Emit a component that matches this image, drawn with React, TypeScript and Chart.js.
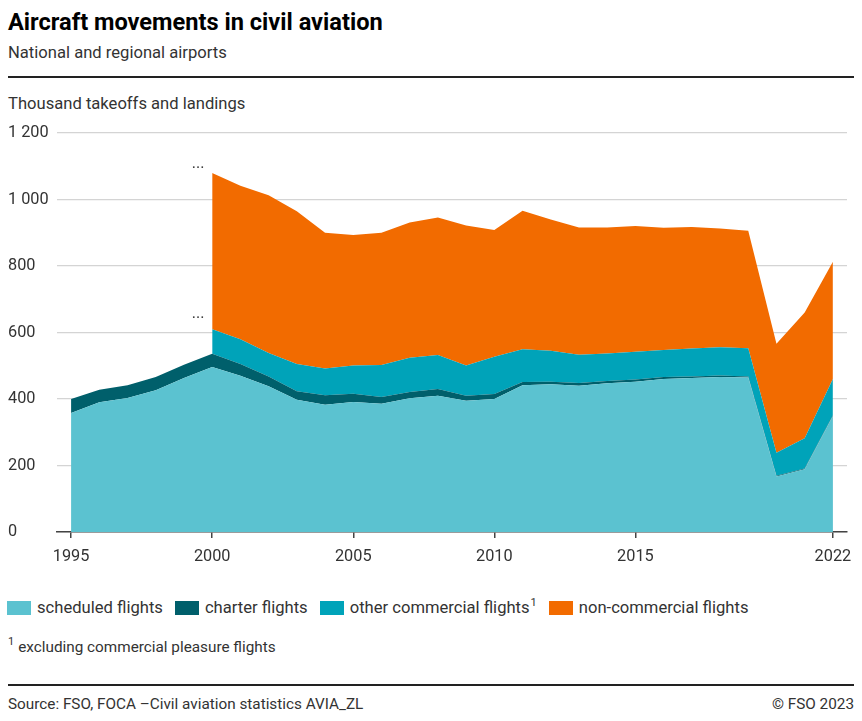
import React, { useEffect, useRef } from "react";
import { Chart, registerables } from "chart.js";

Chart.register(...registerables);

const years = [
  1995, 1996, 1997, 1998, 1999, 2000, 2001, 2002, 2003, 2004, 2005, 2006, 2007, 2008,
  2009, 2010, 2011, 2012, 2013, 2014, 2015, 2016, 2017, 2018, 2019, 2020, 2021, 2022,
];
const scheduled = [
  358, 390, 403, 426, 463, 496, 470, 438, 398, 383, 391, 386, 402, 410,
  395, 400, 441, 444, 440, 447, 452, 460, 463, 466, 465, 167, 189, 349,
];
const charter = [
  42, 38, 38, 40, 40, 40, 35, 30, 25, 28, 25, 20, 19, 20,
  15, 15, 10, 8, 8, 7, 7, 6, 5, 5, 3, 2, 2, 2,
];
const otherCommercial = [
  null, null, null, null, null, 74, 75, 70, 82, 81, 85, 96, 103, 102,
  91, 112, 99, 93, 85, 83, 83, 81, 84, 85, 85, 69, 91, 109,
];
const nonCommercial = [
  null, null, null, null, null, 470, 461, 475, 460, 408, 392, 398, 407, 414,
  421, 381, 416, 395, 383, 379, 378, 368, 365, 357, 353, 328, 378, 353,
];
const seriesNames = [
  "scheduled flights",
  "charter flights",
  "other commercial flights",
  "non-commercial flights",
];
const seriesColors = ["#5bc2d0", "#005f6b", "#00a3b9", "#f26b00"];
const xTickYears = [1995, 2000, 2005, 2010, 2015, 2022];
const yMax = 1200;
const yStep = 200;
// "..." markers showing that the upper series are not available before 2000
const gapMarkYears = [1999.5, 1999.5];
const gapMarkValues = [1095, 645];

const TEXT = "#333333";
const FONT = "Roboto, 'Noto Sans', sans-serif";

function formatThousands(v: number): string {
  if (v >= 1000) {
    return `${Math.floor(v / 1000)} ${String(v % 1000).padStart(3, "0")}`;
  }
  return String(v);
}

const gapMarksPlugin = {
  id: "gapMarks",
  afterDatasetsDraw(chart: any) {
    const { ctx, scales } = chart;
    const x = scales.x;
    const y = scales.y;
    ctx.save();
    ctx.font = `16px ${FONT}`;
    ctx.fillStyle = TEXT;
    ctx.textAlign = "center";
    ctx.textBaseline = "alphabetic";
    gapMarkYears.forEach((yr, i) => {
      ctx.fillText("...", x.getPixelForValue(yr), y.getPixelForValue(gapMarkValues[i]));
    });
    ctx.restore();
  },
};

export default function App() {
  const canvasRef = useRef<HTMLCanvasElement | null>(null);

  useEffect(() => {
    if (!canvasRef.current) return;
    const seriesValues = [scheduled, charter, otherCommercial, nonCommercial];
    const datasets = seriesValues.map((vals, si) => ({
      label: seriesNames[si],
      data: years.map((yr, i) => ({ x: yr, y: vals[i] })),
      backgroundColor: seriesColors[si],
      borderColor: seriesColors[si],
      borderWidth: 0,
      pointRadius: 0,
      pointHoverRadius: 0,
      fill: si === 0 ? "origin" : "-1",
      tension: 0,
      spanGaps: false,
    }));

    const chart = new Chart(canvasRef.current, {
      type: "line",
      data: { datasets },
      plugins: [gapMarksPlugin],
      options: {
        animation: false,
        responsive: true,
        maintainAspectRatio: false,
        layout: { padding: { top: 13, right: 15, left: 0, bottom: 0 } },
        plugins: {
          legend: { display: false },
          tooltip: { enabled: false },
          title: { display: false },
        },
        scales: {
          x: {
            type: "linear",
            min: years[0] - 0.5,
            max: years[years.length - 1] + 0.5,
            afterBuildTicks: (scale: any) => {
              scale.ticks = xTickYears.map((v) => ({ value: v }));
            },
            afterFit: (scale: any) => {
              scale.height = 38;
            },
            ticks: {
              autoSkip: false,
              maxRotation: 0,
              padding: 9,
              color: TEXT,
              font: { family: FONT, size: 16.3 },
              callback: (v: any) => String(v),
            },
            grid: {
              display: true,
              drawOnChartArea: false,
              drawTicks: true,
              tickLength: 6,
              color: "#444444",
              lineWidth: 1.5,
            },
            border: { display: true, color: "#444444", width: 1.5 },
          },
          y: {
            type: "linear",
            stacked: true,
            min: 0,
            max: yMax,
            afterFit: (scale: any) => {
              scale.width = 49;
            },
            ticks: {
              stepSize: yStep,
              crossAlign: "far",
              color: TEXT,
              font: { family: FONT, size: 16.3 },
              callback: (v: any) => formatThousands(Number(v)),
            },
            grid: {
              color: "#d4d4d4",
              lineWidth: 1.2,
              drawTicks: false,
            },
            border: { display: false },
          },
        },
      },
    } as any);
    return () => chart.destroy();
  }, []);

  const abs = (o: React.CSSProperties): React.CSSProperties => ({
    position: "absolute",
    lineHeight: 1,
    whiteSpace: "nowrap",
    fontFamily: FONT,
    color: TEXT,
    ...o,
  });

  return (
    <div
      style={{
        position: "absolute",
        left: 0,
        top: 0,
        width: 862,
        height: 721,
        background: "#ffffff",
        overflow: "hidden",
      }}
    >
      <div style={abs({ left: 8, top: 10.5, fontSize: 23.6, fontWeight: 700, color: "#000" })}>
        Aircraft movements in civil aviation
      </div>
      <div style={abs({ left: 8, top: 45, fontSize: 16.6 })}>National and regional airports</div>
      <div style={{ position: "absolute", left: 8, top: 75.5, width: 846, height: 2, background: "#222" }} />
      <div style={abs({ left: 8, top: 96, fontSize: 16.6 })}>Thousand takeoffs and landings</div>

      <div style={{ position: "absolute", left: 8, top: 120, width: 854, height: 450 }}>
        <canvas ref={canvasRef} />
      </div>

      <div
        style={abs({
          left: 7,
          top: 598,
          fontSize: 16.6,
          display: "flex",
          alignItems: "center",
          height: 20,
        })}
      >
        {seriesNames.map((name, i) => (
          <div key={name} style={{ display: "flex", alignItems: "center", marginRight: 12 }}>
            <span
              style={{
                display: "inline-block",
                width: 24,
                height: 14,
                background: seriesColors[i],
                marginRight: 6,
              }}
            />
            <span>
              {name}
              {i === 2 ? (
                <sup style={{ fontSize: 11, verticalAlign: "top", position: "relative", top: -3, marginLeft: 1 }}>1</sup>
              ) : null}
            </span>
          </div>
        ))}
      </div>

      <div style={abs({ left: 8, top: 640, fontSize: 15.3 })}>
        <sup style={{ fontSize: 11, verticalAlign: "top", position: "relative", top: -4, marginRight: 4 }}>1</sup>
        excluding commercial pleasure flights
      </div>

      <div style={{ position: "absolute", left: 8, top: 683.5, width: 846, height: 2, background: "#222" }} />
      <div style={abs({ left: 8, top: 697, fontSize: 15.3 })}>
        Source: FSO, FOCA –Civil aviation statistics AVIA_ZL
      </div>
      <div style={abs({ right: 8, top: 697, fontSize: 15.3 })}>© FSO 2023</div>
    </div>
  );
}
